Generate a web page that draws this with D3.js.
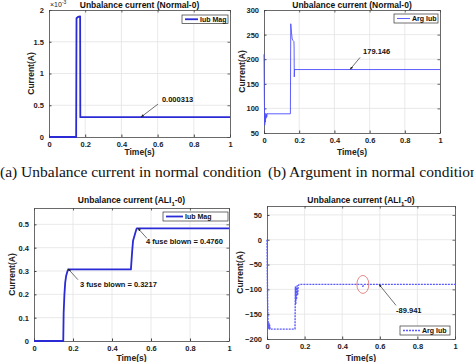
<!DOCTYPE html>
<html>
<head>
<meta charset="utf-8">
<script src="https://cdn.jsdelivr.net/npm/d3@7"></script>
<style>
  body { margin: 0; background: #fff; }
  svg text { font-family: "Liberation Sans", Arial, sans-serif; }
  .caption { font-family: "Liberation Serif", "Times New Roman", serif !important; }
</style>
</head>
<body>
<svg id="chart" width="474" height="362"></svg>
<script>
// (a) magnitude of unbalance current, normal condition (A)
const timeA = [0, 0.15, 0.152, 0.16, 0.172, 0.173, 1];
const iubMagNormal = [0, 0, 1.87e-3, 1.89e-3, 1.9e-3, 0.313e-3, 0.313e-3];

// (b) argument of unbalance current, normal condition
const timeB = [0, 0.002, 0.004, 0.006, 0.008, 0.01, 0.012, 0.014, 0.016, 0.018, 0.022, 0.15, 0.152, 0.156, 0.16, 0.165, 0.17, 0.171, 0.172, 0.174, 0.176, 1];
const argIubNormal = [210, 120, 66, 85, 72, 90, 80, 88, 83, 90, 89, 89, 272, 255, 241, 238, 236, 225, 164, 180, 179, 179];

// (c) magnitude, ALI1 fault
const timeC = [0, 0.15, 0.152, 0.156, 0.16, 0.165, 0.172, 0.176, 0.497, 0.503, 0.508, 0.515, 0.522, 0.527, 1];
const iubMagAli = [0, 0, 0.12, 0.2, 0.25, 0.28, 0.3, 0.307, 0.307, 0.38, 0.43, 0.45, 0.47, 0.483, 0.483];

// (d) argument, ALI1 fault
const timeD = [0, 0.003, 0.006, 0.008, 0.01, 0.012, 0.014, 0.016, 0.02, 0.149, 0.151, 0.153, 0.155, 0.157, 0.16, 0.163, 0.166, 0.172, 0.505, 0.51, 0.515, 1];
const argIubAli = [0, -120, -170, -178, -168, -180, -172, -180, -180, -180, -95, -130, -95, -120, -93, -110, -92, -90, -90, -94, -90, -90];

const xTicks = [0, 0.2, 0.4, 0.6, 0.8, 1];
const captions = ["(a) Unbalance current in normal condition", "(b) Argument in normal condition"];

const svg = d3.select("#chart");

function drawPanel(p) {
  const x = d3.scaleLinear().domain([0, 1]).range([p.x0, p.x1]);
  const y = d3.scaleLinear().domain(p.yDomain).range([p.y1, p.y0]);
  const g = svg.append("g");

  // grid
  g.append("g").selectAll("line").data(xTicks.slice(1, -1)).join("line")
    .attr("x1", d => x(d)).attr("x2", d => x(d)).attr("y1", p.y0).attr("y2", p.y1)
    .attr("stroke", "#e3e3e3").attr("stroke-width", 0.8);
  g.append("g").selectAll("line").data(p.yTicks.filter(v => y(v) > p.y0 + 1 && y(v) < p.y1 - 1)).join("line")
    .attr("x1", p.x0).attr("x2", p.x1).attr("y1", d => y(d)).attr("y2", d => y(d))
    .attr("stroke", "#e3e3e3").attr("stroke-width", 0.8);

  // axes
  const xa = g.append("g").attr("transform", `translate(0,${p.y1})`)
    .call(d3.axisBottom(x).tickValues(xTicks).tickSizeInner(-2.5).tickSizeOuter(0).tickPadding(5).tickFormat(d3.format("")));
  const ya = g.append("g").attr("transform", `translate(${p.x0},0)`)
    .call(d3.axisLeft(y).tickValues(p.yTicks).tickSizeInner(-2.5).tickSizeOuter(0).tickPadding(5).tickFormat(p.fmt || d3.format("")));
  [xa, ya].forEach(a => {
    a.select(".domain").attr("stroke", "#444").attr("stroke-width", 0.8);
    a.selectAll(".tick line").attr("stroke", "#444");
    a.selectAll("text").attr("font-size", 7.5).attr("font-weight", "bold").attr("fill", "#222");
  });
  // top and right frame with mirrored ticks
  g.append("g").attr("transform", `translate(0,${p.y0})`)
    .call(d3.axisTop(x).tickValues(xTicks).tickSizeInner(-2.5).tickSizeOuter(0).tickFormat(""))
    .call(a => a.selectAll("path,line").attr("stroke", "#444").attr("stroke-width", 0.8));
  g.append("g").attr("transform", `translate(${p.x1},0)`)
    .call(d3.axisRight(y).tickValues(p.yTicks).tickSizeInner(-2.5).tickSizeOuter(0).tickFormat(""))
    .call(a => a.selectAll("path,line").attr("stroke", "#444").attr("stroke-width", 0.8));

  // data line
  const pts = p.t.map((t, i) => [t, p.v[i]]);
  g.append("path").datum(pts)
    .attr("d", d3.line().x(d => x(d[0])).y(d => y(d[1])))
    .attr("fill", "none").attr("stroke", p.color).attr("stroke-width", p.width)
    .attr("stroke-dasharray", p.dash || null).attr("stroke-linejoin", "round");

  // title
  const title = g.append("text").attr("x", (p.x0 + p.x1) / 2).attr("y", p.titleY)
    .attr("text-anchor", "middle").attr("font-size", 8.5).attr("font-weight", "bold").attr("fill", "#111");
  title.append("tspan").text(p.title);
  if (p.titleSub) {
    title.append("tspan").attr("dy", 2.5).attr("font-size", 6).text(p.titleSub);
    title.append("tspan").attr("dy", -2.5).text(p.titleEnd);
  }

  // axis labels
  g.append("text").attr("transform", `translate(${p.ylabX},${(p.y0 + p.y1) / 2}) rotate(-90)`)
    .attr("text-anchor", "middle").attr("font-size", 8.5).attr("font-weight", "bold").attr("fill", "#222")
    .text("Current(A)");
  g.append("text").attr("x", (p.x0 + p.x1) / 2).attr("y", p.xlabY)
    .attr("text-anchor", "middle").attr("font-size", 8.5).attr("font-weight", "bold").attr("fill", "#222")
    .text("Time(s)");

  // legend
  const L = p.legend;
  g.append("rect").attr("x", L.x).attr("y", L.y).attr("width", L.w).attr("height", L.h)
    .attr("fill", "#fff").attr("stroke", "#333").attr("stroke-width", 0.7);
  g.append("line").attr("x1", L.x + 3).attr("x2", L.x + 3 + L.lw).attr("y1", L.y + L.h / 2).attr("y2", L.y + L.h / 2)
    .attr("stroke", p.color).attr("stroke-width", p.width).attr("stroke-dasharray", p.dash || null);
  g.append("text").attr("x", L.x + 5 + L.lw).attr("y", L.y + L.h / 2 + 2.5)
    .attr("font-size", 7).attr("font-weight", "bold").attr("fill", "#111").text(p.name);

  // annotations
  p.notes.forEach(n => {
    const tx = x(n.t), ty = y(n.v);
    g.append("line").attr("x1", tx + n.dx).attr("y1", ty + n.dy).attr("x2", tx).attr("y2", ty)
      .attr("stroke", "#333").attr("stroke-width", 0.7).attr("marker-end", "url(#arr)");
    g.append("text").attr("x", tx + n.tx).attr("y", ty + n.ty)
      .attr("font-size", 7.5).attr("font-weight", "bold").attr("fill", "#111").text(n.label);
  });
  if (p.circle) {
    g.append("ellipse").attr("cx", x(p.circle.t)).attr("cy", y(p.circle.v)).attr("rx", 6).attr("ry", 9)
      .attr("fill", "none").attr("stroke", "#e06a6a").attr("stroke-width", 0.8);
  }
  return { x, y };
}

svg.append("defs").append("marker").attr("id", "arr").attr("viewBox", "0 0 10 10")
  .attr("refX", 9).attr("refY", 5).attr("markerWidth", 5).attr("markerHeight", 5).attr("orient", "auto")
  .append("path").attr("d", "M0,1.5L10,5L0,8.5z").attr("fill", "#222");

drawPanel({
  x0: 49, x1: 230, y0: 10, y1: 137, yDomain: [0, 2e-3],
  yTicks: [0, 0.5e-3, 1e-3, 1.5e-3, 2e-3], fmt: d => d3.format("")(+(d * 1000).toFixed(1)),
  t: timeA, v: iubMagNormal, color: "#2b2bd6", width: 1.8, name: "Iub Mag",
  title: "Unbalance current (Normal-0)", titleY: 8, ylabX: 34, xlabY: 155,
  legend: { x: 182, y: 15, w: 46, h: 8.5, lw: 13 },
  notes: [{ t: 0.508, v: 0.313e-3, dx: 17, dy: -13, tx: 21, ty: -15, label: "0.000313" }]
});
svg.append("text").attr("x", 50).attr("y", 7).attr("font-size", 7).attr("fill", "#222").text("×10")
  .append("tspan").attr("dy", -3).attr("font-size", 5).text("-3");

drawPanel({
  x0: 264, x1: 440, y0: 10, y1: 133, yDomain: [50, 300],
  yTicks: [50, 100, 150, 200, 250, 300],
  t: timeB, v: argIubNormal, color: "#4d4dff", width: 0.9, name: "Arg Iub",
  title: "Unbalance current (Normal-0)", titleY: 8, ylabX: 245, xlabY: 155,
  legend: { x: 394, y: 14, w: 44, h: 9, lw: 13 },
  notes: [{ t: 0.489, v: 179.146, dx: 10, dy: -12, tx: 13, ty: -15, label: "179.146" }]
});

drawPanel({
  x0: 34, x1: 229, y0: 208, y1: 341, yDomain: [0, 0.57],
  yTicks: [0, 0.1, 0.2, 0.3, 0.4, 0.5],
  t: timeC, v: iubMagAli, color: "#2b2bd6", width: 1.8, name: "Iub Mag",
  title: "Unbalance current (ALI", titleSub: "1", titleEnd: "-0)", titleY: 203, ylabX: 15, xlabY: 361,
  legend: { x: 163, y: 212, w: 65, h: 9, lw: 17 },
  notes: [
    { t: 0.174, v: 0.31, dx: 10, dy: 11, tx: 12, ty: 18, label: "3 fuse blown = 0.3217" },
    { t: 0.533, v: 0.483, dx: 9, dy: 10, tx: 8, ty: 16, label: "4 fuse blown = 0.4760" }
  ]
});

drawPanel({
  x0: 267, x1: 455, y0: 206, y1: 339, yDomain: [-200, 68],
  yTicks: [-200, -150, -100, -50, 0, 50],
  t: timeD, v: argIubAli, color: "#5a5aff", width: 1.4, dash: "2,1", name: "Arg Iub",
  title: "Unbalance current (ALI", titleSub: "1", titleEnd: "-0)", titleY: 203, ylabX: 243, xlabY: 361,
  legend: { x: 400, y: 326, w: 50, h: 9, lw: 17 },
  notes: [{ t: 0.596, v: -90, dx: 17, dy: 21, tx: 17, ty: 29, label: "-89.941" }],
  circle: { t: 0.51, v: -90 }
});

// sub-figure captions
svg.selectAll(".caption").data(captions).join("text")
  .attr("class", "caption")
  .attr("x", (d, i) => i === 0 ? 0 : 268).attr("y", 177)
  .attr("font-size", 15.5).attr("fill", "#111").text(d => d);
</script>
</body>
</html>
